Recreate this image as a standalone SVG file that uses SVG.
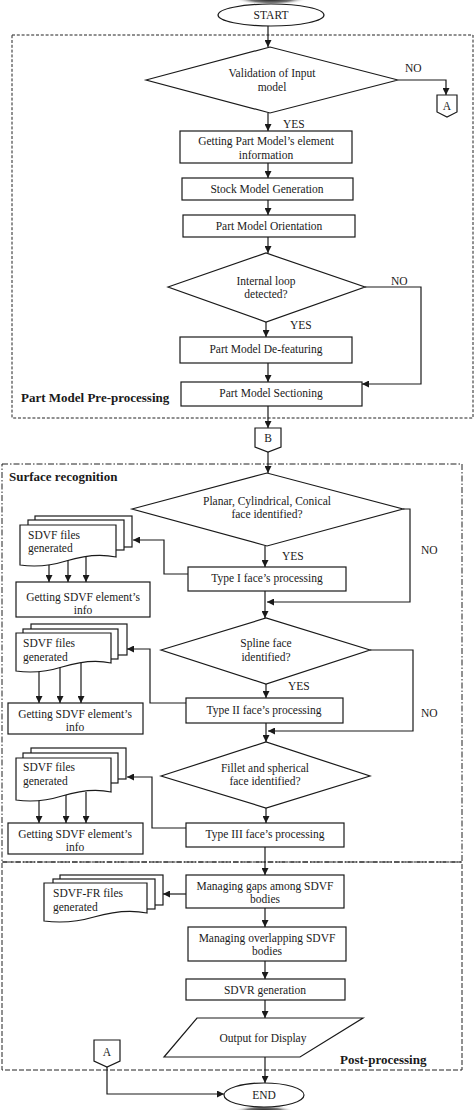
<svg xmlns="http://www.w3.org/2000/svg" width="474" height="1110" viewBox="0 0 474 1110">
<style>
.s{fill:#fff;stroke:#1a1a1a;stroke-width:1.2}
.c{fill:none;stroke:#1a1a1a;stroke-width:1.2}
.a{marker-end:url(#ah)}
text{font-family:"Liberation Serif","Times New Roman",serif;font-size:11.5px;fill:#1a1a1a}
.m{text-anchor:middle}
.b{font-weight:bold;font-size:13px}
.g1{fill:none;stroke:#222;stroke-width:1;stroke-dasharray:3 1.8}
.g2{fill:none;stroke:#222;stroke-width:1;stroke-dasharray:6 2 1.5 2}
.g3{fill:none;stroke:#222;stroke-width:1;stroke-dasharray:5 2}
</style>
<defs>
<marker id="ah" viewBox="0 0 10 10" refX="10" refY="5" markerWidth="7" markerHeight="7" markerUnits="userSpaceOnUse" orient="auto"><path d="M0,0 L10,5 L0,10 z" fill="#1a1a1a"/></marker>
<radialGradient id="sh"><stop offset="0" stop-color="#111"/><stop offset="0.6" stop-color="#777"/><stop offset="1" stop-color="#fff" stop-opacity="0"/></radialGradient>
</defs>
<rect width="474" height="1110" fill="#fff"/>
<ellipse cx="271" cy="-1" rx="36" ry="6" fill="url(#sh)"/>
<ellipse cx="264" cy="1111" rx="30" ry="6" fill="url(#sh)"/>

<g id="regions">
<rect class="g1" x="12" y="35" width="461" height="383"/>
<rect class="g2" x="2" y="464" width="460" height="398"/>
<rect class="g3" x="2" y="862" width="460" height="208"/>
<text class="b" x="21" y="402">Part Model Pre-processing</text>
<text class="b" x="9" y="481">Surface recognition</text>
<text class="b" x="340" y="1064">Post-processing</text>
</g>

<g id="connectors">
<line class="c a" x1="268" y1="26" x2="268" y2="47"/>
<polyline class="c a" points="398,80 446,80 446,95"/>
<line class="c a" x1="268" y1="113" x2="268" y2="131"/>
<line class="c a" x1="268" y1="163" x2="268" y2="178"/>
<line class="c a" x1="268" y1="200" x2="268" y2="215"/>
<line class="c a" x1="268" y1="237" x2="268" y2="253"/>
<polyline class="c a" points="365,287 421,287 421,384 362,384"/>
<line class="c a" x1="266" y1="322" x2="266" y2="337"/>
<line class="c a" x1="268" y1="363" x2="268" y2="382"/>
<line class="c a" x1="268" y1="406" x2="268" y2="428"/>
<line class="c a" x1="268" y1="452" x2="268" y2="473"/>
<polyline class="c a" points="403,509 410,509 410,602 267,602"/>
<line class="c a" x1="265" y1="546" x2="265" y2="567"/>
<polyline class="c a" points="188,574 164,574 164,540 133,540"/>
<line class="c a" x1="265" y1="591" x2="265" y2="618"/>
<line class="c a" x1="49" y1="560" x2="49" y2="582"/>
<line class="c a" x1="68" y1="558" x2="68" y2="582"/>
<line class="c a" x1="86" y1="556" x2="86" y2="582"/>
<polyline class="c a" points="370,650 413,650 413,731 268,731"/>
<line class="c a" x1="266" y1="684" x2="266" y2="698"/>
<polyline class="c a" points="186,703 150,703 150,649 127,649"/>
<line class="c a" x1="39" y1="666" x2="39" y2="703"/>
<line class="c a" x1="60" y1="664" x2="60" y2="703"/>
<line class="c a" x1="81" y1="662" x2="81" y2="703"/>
<line class="c a" x1="266" y1="723" x2="266" y2="742"/>
<line class="c a" x1="266" y1="808" x2="266" y2="823"/>
<polyline class="c a" points="186,828 152,828 152,777 127,777"/>
<line class="c a" x1="39" y1="796" x2="39" y2="823"/>
<line class="c a" x1="66" y1="794" x2="66" y2="823"/>
<line class="c a" x1="86" y1="792" x2="86" y2="823"/>
<line class="c a" x1="265" y1="847" x2="265" y2="875"/>
<line class="c a" x1="186" y1="894" x2="163" y2="894"/>
<line class="c a" x1="265" y1="908" x2="265" y2="927"/>
<line class="c a" x1="265" y1="961" x2="265" y2="979"/>
<line class="c a" x1="265" y1="1000" x2="265" y2="1018"/>
<line class="c a" x1="265" y1="1057" x2="265" y2="1083"/>
<polyline class="c a" points="107,1067 107,1094 224,1094"/>
</g>

<g id="start"><ellipse class="s" cx="271" cy="15" rx="53" ry="11"/><text class="m" x="271" y="19">START</text></g>

<g id="d-validation"><polygon class="s" points="146,80 270,47 398,80 270,113"/><text class="m" x="272" y="77">Validation of Input</text><text class="m" x="272" y="91">model</text></g>
<g id="lbl1"><text x="405" y="72">NO</text><text x="283" y="128">YES</text></g>
<g id="conn-a1"><path class="s" d="M437,95 H457 V112 L447,117 L437,112 Z"/><text class="m" x="447" y="110">A</text></g>

<g id="n-getting"><rect class="s" x="180" y="131" width="172" height="32"/><text class="m" x="266" y="145">Getting Part Model’s element</text><text class="m" x="266" y="159">information</text></g>
<g id="n-stock"><rect class="s" x="182" y="178" width="171" height="22"/><text class="m" x="267" y="193">Stock Model Generation</text></g>
<g id="n-orient"><rect class="s" x="183" y="215" width="172" height="22"/><text class="m" x="269" y="230">Part Model Orientation</text></g>

<g id="d-loop"><polygon class="s" points="168,287 266,253 365,287 266,322"/><text class="m" x="266" y="285">Internal loop</text><text class="m" x="266" y="298">detected?</text></g>
<g id="lbl2"><text x="391" y="285">NO</text><text x="290" y="329">YES</text></g>
<g id="n-defeat"><rect class="s" x="180" y="337" width="172" height="26"/><text class="m" x="266" y="353">Part Model De-featuring</text></g>
<g id="n-section"><rect class="s" x="181" y="382" width="181" height="24"/><text class="m" x="271" y="397">Part Model Sectioning</text></g>

<g id="conn-b"><path class="s" d="M255,428 H281 V447 L268,452 L255,447 Z"/><text class="m" x="268" y="442">B</text></g>

<g id="d-planar"><polygon class="s" points="132,509 267,473 403,509 267,546"/><text class="m" x="267" y="505">Planar, Cylindrical, Conical</text><text class="m" x="267" y="518">face identified?</text></g>
<g id="lbl3"><text x="421" y="554">NO</text><text x="282" y="560">YES</text></g>
<g id="n-type1"><rect class="s" x="188" y="567" width="158" height="24"/><text class="m" x="267" y="582">Type I face’s processing</text></g>

<g id="doc1">
<rect class="s" x="35" y="516" width="97" height="31"/>
<rect class="s" x="28" y="520" width="96" height="30"/>
<path class="s" d="M20,525 H116 V557 C98,553 82,556 66,561 C50,566 34,567 20,565 Z"/>
<text x="28" y="539">SDVF files</text><text x="28" y="552">generated</text>
</g>
<g id="n-sdvf1"><rect class="s" x="16" y="582" width="134" height="35"/><text class="m" x="83" y="601">Getting SDVF element’s</text><text class="m" x="83" y="614">info</text></g>

<g id="d-spline"><polygon class="s" points="161,650 266,618 370,650 266,684"/><text class="m" x="266" y="647">Spline face</text><text class="m" x="266" y="661">identified?</text></g>
<g id="lbl4"><text x="421" y="717">NO</text><text x="288" y="690">YES</text></g>
<g id="n-type2"><rect class="s" x="186" y="698" width="157" height="25"/><text class="m" x="264" y="714">Type II face’s processing</text></g>

<g id="doc2">
<rect class="s" x="31" y="624" width="96" height="31"/>
<rect class="s" x="23" y="629" width="95" height="30"/>
<path class="s" d="M16,633 H111 V663 C94,659 78,662 62,667 C46,672 30,673 16,671 Z"/>
<text x="23" y="647">SDVF files</text><text x="23" y="661">generated</text>
</g>
<g id="n-sdvf2"><rect class="s" x="8" y="703" width="135" height="31"/><text class="m" x="75" y="718">Getting SDVF element’s</text><text class="m" x="75" y="731">info</text></g>

<g id="d-fillet"><polygon class="s" points="161,776 266,742 370,776 266,808"/><text class="m" x="265" y="772">Fillet and spherical</text><text class="m" x="265" y="785">face identified?</text></g>
<g id="n-type3"><rect class="s" x="186" y="823" width="158" height="24"/><text class="m" x="265" y="838">Type III face’s processing</text></g>

<g id="doc3">
<rect class="s" x="31" y="748" width="95" height="31"/>
<rect class="s" x="23" y="753" width="95" height="30"/>
<path class="s" d="M16,758 H111 V792 C94,788 78,791 62,796 C46,801 30,802 16,800 Z"/>
<text x="23" y="771">SDVF files</text><text x="23" y="785">generated</text>
</g>
<g id="n-sdvf3"><rect class="s" x="8" y="823" width="135" height="31"/><text class="m" x="75" y="838">Getting SDVF element’s</text><text class="m" x="75" y="851">info</text></g>

<g id="n-gaps"><rect class="s" x="186" y="875" width="158" height="33"/><text class="m" x="265" y="890">Managing gaps among SDVF</text><text class="m" x="265" y="903">bodies</text></g>
<g id="doc4">
<rect class="s" x="60" y="875" width="103" height="30"/>
<rect class="s" x="53" y="879" width="102" height="30"/>
<path class="s" d="M44,883 H147 V913 C128,909 111,912 94,917 C77,922 60,923 44,921 Z"/>
<text x="53" y="897">SDVF-FR files</text><text x="53" y="911">generated</text>
</g>
<g id="n-overlap"><rect class="s" x="188" y="927" width="158" height="34"/><text class="m" x="267" y="942">Managing overlapping SDVF</text><text class="m" x="267" y="955">bodies</text></g>
<g id="n-sdvr"><rect class="s" x="186" y="979" width="159" height="21"/><text class="m" x="265" y="994">SDVR generation</text></g>
<g id="n-output"><polygon class="s" points="197,1018 363,1018 300,1057 164,1057"/><text class="m" x="263" y="1042">Output for Display</text></g>

<g id="conn-a2"><path class="s" d="M94,1040 H120 V1061 L107,1067 L94,1061 Z"/><text class="m" x="107" y="1056">A</text></g>
<g id="end"><ellipse class="s" cx="264" cy="1095" rx="40" ry="12"/><text class="m" x="264" y="1099">END</text></g>
</svg>
